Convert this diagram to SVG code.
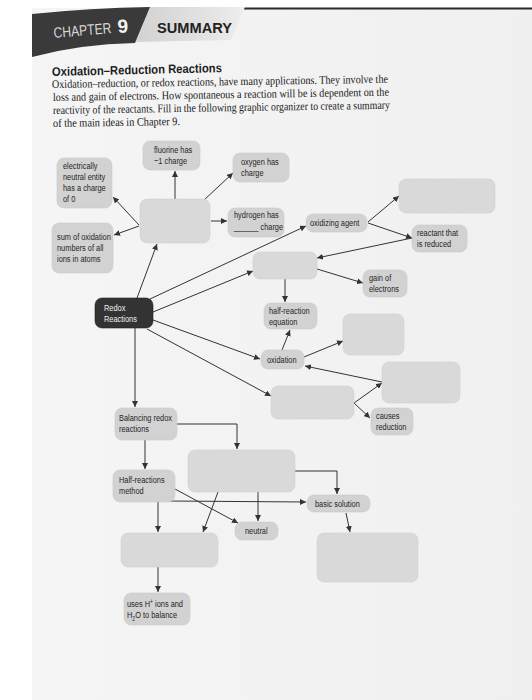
<svg xmlns="http://www.w3.org/2000/svg" width="532" height="700" viewBox="0 0 532 700">
<defs>
<marker id="ah" markerUnits="userSpaceOnUse" markerWidth="7" markerHeight="6" refX="6" refY="3" orient="auto">
<path d="M0,0 L6,3 L0,6 Z" fill="#333"/>
</marker>
<linearGradient id="sumg" x1="0" y1="0" x2="1" y2="0">
<stop offset="0" stop-color="#d2d2d2"/>
<stop offset="0.7" stop-color="#e4e4e4"/>
<stop offset="1" stop-color="#eeeeee"/>
</linearGradient>
<linearGradient id="pageg" x1="0" y1="0" x2="1" y2="0">
<stop offset="0" stop-color="#f5f5f5"/>
<stop offset="1" stop-color="#f0f0f0"/>
</linearGradient>
</defs>
<style>
.nd{fill:#d2d2d2;stroke:#cbcbcb;stroke-width:0.6}
.bl{fill:#d9d9d9;stroke:#d0d0d0;stroke-width:0.6}
.dk{fill:#333333;stroke:#222;stroke-width:0.6}
.t,.tw{font-family:"Liberation Sans",Arial,sans-serif;font-size:9.5px;fill:#1f1f1f;transform-box:fill-box;transform-origin:0 0;transform:scaleX(0.78)}
.tw{fill:#f0f0f0}
.c line,.c polyline{stroke:#333;stroke-width:1;fill:none;marker-end:url(#ah)}
.p{font-family:"Liberation Serif","Times New Roman",serif;font-size:11.6px;fill:#1a1a1a}
</style>
<rect x="0" y="0" width="532" height="700" fill="#ffffff"/>
<rect x="32" y="8" width="500" height="692" fill="url(#pageg)"/>
<line x1="237" y1="8.5" x2="532" y2="8.5" stroke="#2a2a2a" stroke-width="2"/>
<g id="banner">
<path d="M150,7 L245,7 L231,40 L136,42 Z" fill="url(#sumg)"/>
<path d="M32,14 Q90,8 150,7 L135,43 Q80,44 32,57 Z" fill="#3a3a3a"/>
<text x="54" y="38" transform="rotate(-5 54 38)" font-family="'Liberation Sans',Arial,sans-serif" font-size="15" fill="#d8d8d8" textLength="58" lengthAdjust="spacingAndGlyphs">CHAPTER</text>
<text x="118" y="33" transform="rotate(-4 118 33)" font-family="'Liberation Sans',Arial,sans-serif" font-size="19" font-weight="bold" fill="#f4f4f4">9</text>
<text x="157" y="33" font-family="'Liberation Sans',Arial,sans-serif" font-size="15" font-weight="bold" fill="#222" textLength="75" lengthAdjust="spacingAndGlyphs">SUMMARY</text>
</g>
<g id="intro">
<text x="52" y="76" transform="rotate(-1.3 52 76)" font-family="'Liberation Sans',Arial,sans-serif" font-size="12.5" font-weight="bold" fill="#1e1e1e" textLength="170" lengthAdjust="spacingAndGlyphs">Oxidation–Reduction Reactions</text>
<text class="p" x="52" y="88" transform="rotate(-0.9 52 88)" textLength="336" lengthAdjust="spacingAndGlyphs">Oxidation–reduction, or redox reactions, have many applications. They involve the</text>
<text class="p" x="53" y="101" transform="rotate(-0.9 53 101)" textLength="336" lengthAdjust="spacingAndGlyphs">loss and gain of electrons. How spontaneous a reaction will be is dependent on the</text>
<text class="p" x="53" y="114" transform="rotate(-0.9 53 114)" textLength="337" lengthAdjust="spacingAndGlyphs">reactivity of the reactants. Fill in the following graphic organizer to create a summary</text>
<text class="p" x="53" y="127" transform="rotate(-0.9 53 127)" textLength="127" lengthAdjust="spacingAndGlyphs">of the main ideas in Chapter 9.</text>
</g>
<g id="connectors" class="c">
<line x1="175" y1="199" x2="175" y2="171"/>
<line x1="204" y1="200" x2="233" y2="173"/>
<line x1="211" y1="221" x2="227" y2="221"/>
<line x1="139" y1="225" x2="113" y2="197"/>
<line x1="139" y1="226" x2="114" y2="235"/>
<line x1="137" y1="298" x2="157" y2="244"/>
<line x1="150" y1="299" x2="306" y2="226"/>
<line x1="153" y1="312" x2="253" y2="271"/>
<line x1="153" y1="320" x2="260" y2="359"/>
<line x1="147" y1="329" x2="271" y2="396"/>
<line x1="135" y1="328" x2="135" y2="407"/>
<line x1="368" y1="222" x2="399" y2="196"/>
<line x1="368" y1="223" x2="412" y2="238"/>
<line x1="412" y1="238" x2="317" y2="258"/>
<line x1="317" y1="269" x2="363" y2="283"/>
<line x1="285" y1="279" x2="285" y2="302"/>
<line x1="282" y1="350" x2="290" y2="330"/>
<line x1="304" y1="357" x2="343" y2="341"/>
<line x1="382" y1="382" x2="305" y2="366"/>
<line x1="354" y1="403" x2="382" y2="383"/>
<line x1="354" y1="403" x2="370" y2="418"/>
<line x1="145" y1="440" x2="145" y2="469"/>
<polyline points="177,424 237,424 237,449"/>
<line x1="168" y1="501" x2="306" y2="502"/>
<line x1="175" y1="489" x2="238" y2="523"/>
<line x1="158" y1="502" x2="158" y2="532"/>
<line x1="218" y1="492" x2="203" y2="532"/>
<line x1="258" y1="492" x2="258" y2="521"/>
<polyline points="295,471 337,471 337,494"/>
<line x1="346" y1="513" x2="350" y2="532"/>
<line x1="158" y1="567" x2="158" y2="592"/>
</g>
<g id="n-neutral-entity"><rect class="nd" x="57" y="158" width="55" height="50" rx="7"/>
<text class="t" x="63" y="169">electrically</text><text class="t" x="63" y="180">neutral entity</text><text class="t" x="63" y="191">has a charge</text><text class="t" x="63" y="202">of 0</text></g>
<g id="n-fluorine"><rect class="nd" x="143" y="141" width="57" height="29" rx="7"/>
<text class="t" x="154" y="153">fluorine has</text><text class="t" x="154" y="164">−1 charge</text></g>
<g id="n-oxygen"><rect class="nd" x="233" y="153" width="56" height="29" rx="7"/>
<text class="t" x="241" y="165">oxygen has</text><text class="t" x="241" y="176">charge</text></g>
<g id="n-center"><rect class="bl" x="140" y="199" width="70" height="44" rx="7"/></g>
<g id="n-hydrogen"><rect class="nd" x="228" y="208" width="56" height="29" rx="7"/>
<text class="t" x="234" y="218">hydrogen has</text><text class="t" x="234" y="230">______ charge</text></g>
<g id="n-sum"><rect class="nd" x="52" y="223" width="61" height="50" rx="7"/>
<text class="t" x="57" y="240">sum of oxidation</text><text class="t" x="57" y="251">numbers of all</text><text class="t" x="57" y="262">ions in atoms</text></g>
<g id="n-blank-a"><rect class="bl" x="253" y="252" width="64" height="27" rx="7"/></g>
<g id="n-oxidizing-agent"><rect class="nd" x="306" y="214" width="61" height="18" rx="7"/>
<text class="t" x="310" y="226">oxidizing agent</text></g>
<g id="n-blank-b"><rect class="bl" x="399" y="179" width="96" height="34" rx="7"/></g>
<g id="n-reactant"><rect class="nd" x="412" y="225" width="55" height="27" rx="7"/>
<text class="t" x="417" y="236">reactant that</text><text class="t" x="417" y="247">is reduced</text></g>
<g id="n-gain"><rect class="nd" x="363" y="270" width="44" height="27" rx="7"/>
<text class="t" x="369" y="281">gain of</text><text class="t" x="369" y="292">electrons</text></g>
<g id="n-redox"><rect class="dk" x="95" y="298" width="58" height="30" rx="7"/>
<text class="tw" x="104" y="311">Redox</text><text class="tw" x="104" y="322">Reactions</text></g>
<g id="n-half-eq"><rect class="nd" x="264" y="303" width="53" height="26" rx="7"/>
<text class="t" x="269" y="314">half-reaction</text><text class="t" x="269" y="325">equation</text></g>
<g id="n-blank-c"><rect class="bl" x="343" y="314" width="61" height="41" rx="7"/></g>
<g id="n-oxidation"><rect class="nd" x="261" y="350" width="43" height="19" rx="7"/>
<text class="t" x="267" y="363">oxidation</text></g>
<g id="n-blank-d"><rect class="bl" x="382" y="362" width="78" height="41" rx="7"/></g>
<g id="n-blank-e"><rect class="bl" x="271" y="386" width="83" height="33" rx="7"/></g>
<g id="n-causes"><rect class="nd" x="371" y="408" width="42" height="27" rx="7"/>
<text class="t" x="376" y="419">causes</text><text class="t" x="376" y="430">reduction</text></g>
<g id="n-balancing"><rect class="nd" x="115" y="408" width="62" height="32" rx="7"/>
<text class="t" x="119" y="421">Balancing redox</text><text class="t" x="119" y="432">reactions</text></g>
<g id="n-blank-f"><rect class="bl" x="188" y="450" width="107" height="42" rx="7"/></g>
<g id="n-half-method"><rect class="nd" x="113" y="470" width="62" height="32" rx="7"/>
<text class="t" x="119" y="483">Half-reactions</text><text class="t" x="119" y="494">method</text></g>
<g id="n-basic"><rect class="nd" x="307" y="495" width="63" height="17" rx="7"/>
<text class="t" x="315" y="507">basic solution</text></g>
<g id="n-neutral"><rect class="nd" x="235" y="522" width="43" height="18" rx="7"/>
<text class="t" x="245" y="534">neutral</text></g>
<g id="n-blank-g"><rect class="bl" x="121" y="533" width="97" height="34" rx="7"/></g>
<g id="n-blank-h"><rect class="bl" x="317" y="533" width="101" height="49" rx="7"/></g>
<g id="n-uses"><rect class="nd" x="124" y="593" width="66" height="32" rx="7"/>
<text class="t" x="127" y="607">uses H<tspan font-size="6.5" baseline-shift="super">+</tspan> ions and</text><text class="t" x="127" y="618">H<tspan font-size="6.5" baseline-shift="sub">2</tspan>O to balance</text></g>
</svg>
